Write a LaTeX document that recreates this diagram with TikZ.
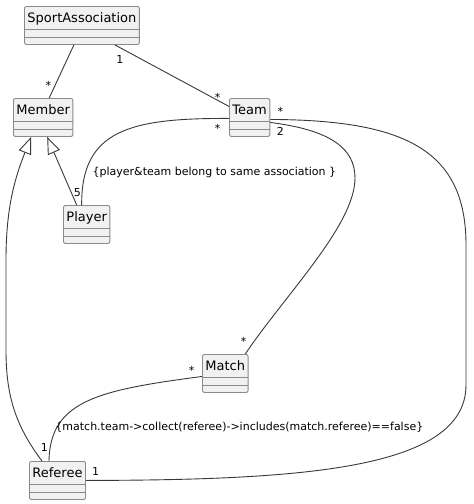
\documentclass[tikz,border=0pt]{standalone}
\usepackage{fontspec}
\setmainfont{DejaVu Sans}
\usepackage{tikz}
\usetikzlibrary{arrows.meta}
\definecolor{boxfill}{HTML}{F1F1F1}
\definecolor{boxline}{HTML}{8A8A8A}
\definecolor{edgeline}{HTML}{383838}

\begin{document}
\begin{tikzpicture}[%
    x=1pt,
    y=-1pt,
    klass/.style={
      rectangle,
      rounded corners=2pt,
      draw=boxline,
      fill=boxfill,
      line width=0.9pt,
      anchor=north west,
      font=\fontsize{13}{15}\selectfont,
      inner xsep=3pt,
      inner ysep=2pt,
      text height=14pt,
      text depth=20pt,
      path picture={
        \draw[boxline, line width=0.9pt] ([yshift=15pt]path picture bounding box.south west) -- ([yshift=15pt]path picture bounding box.south east);
        \draw[boxline, line width=0.9pt] ([yshift=7.5pt]path picture bounding box.south west) -- ([yshift=7.5pt]path picture bounding box.south east);
      }
    },
    assoc/.style={draw=edgeline, line width=0.9pt},
    gen/.style={assoc, -{Triangle[fill=white, length=17pt, width=13pt]}},
    mult/.style={font=\fontsize{11}{13}\selectfont, anchor=base, inner sep=0pt},
    note/.style={font=\fontsize{11}{13}\selectfont, anchor=base west, inner sep=0pt}
    ]
    \useasboundingbox (0,0) rectangle (474,504);

    \draw (24,6) node[klass] (sa) {SportAssociation};
    \draw (13,98) node[klass] (member) {Member};
    \draw (229,98) node[klass] (team) {Team};
    \draw (63,205) node[klass] (player) {Player};
    \draw (202,354) node[klass] (match) {Match};
    \draw (29,461) node[klass] (referee) {Referee};

    \draw[assoc] ([xshift=-8pt]sa.south) -- ([xshift=6pt]member.north)
      node[mult, at end, xshift=-0.7pt, yshift=8.2pt] (m1) {*};
    \draw[assoc] ([xshift=33pt]sa.south) -- ([yshift=11pt]team.west)
      node[mult, at start, xshift=5pt, yshift=-18.7pt] (m2) {1}
      node[mult, at end, xshift=-11.3pt, yshift=5.2pt] (m3) {*};
    \draw[assoc] ([yshift=-1pt]team.west) .. controls (130,118) and (81,130) .. ([xshift=-5pt]player.north)
      node[mult, at start, xshift=-11.3pt, yshift=-13.8pt] (m4) {*}
      node[mult, at end, xshift=-4.3pt, yshift=9pt] (m5) {5}
      node[note, at end, xshift=10.5pt, yshift=30pt] (c1) {\{player\&team belong to same association \}};
    \draw[gen] ([xshift=-10pt]player.north) -- ([xshift=4pt]member.south);
    \draw[gen] ([xshift=-15.5pt]referee.north) .. controls (15,425) and (6,395) .. (6,350) -- (6,260) .. controls (6,210) and (14,180) .. ([xshift=-12pt]member.south);
    \draw[assoc] ([yshift=-5pt]team.east) .. controls (330,130) and (355,148) .. (355,178)
      node[mult, at start, xshift=10pt, yshift=-13pt] (m6) {2}
      .. controls (355,225) and (285,295) .. ([xshift=20pt]match.north)
      node[mult, at end, xshift=-1.7pt, yshift=8.5pt] (m7) {*};
    \draw[assoc] ([yshift=-2pt]team.east) .. controls (405,120) and (466,150) .. (466,245)
      node[mult, at start, xshift=10pt, yshift=4.2pt] (m8) {*}
      -- (466,385) .. controls (466,470) and (300,480) .. (referee.east)
      node[mult, at end, xshift=9.7pt, yshift=4.7pt] (m9) {1};
    \draw[assoc] ([yshift=-3pt]match.west) .. controls (100,390) and (50,400) .. ([xshift=-8.5pt]referee.north)
      node[mult, at start, xshift=-10.3pt, yshift=2.2pt] (m10) {*}
      node[mult, at end, xshift=-4.7pt, yshift=9.3pt] (m11) {1}
      node[note, at end, xshift=6pt, yshift=30.5pt] (c2) {\{match.team->collect(referee)->includes(match.referee)==false\}};
  \end{tikzpicture}
\end{document}
